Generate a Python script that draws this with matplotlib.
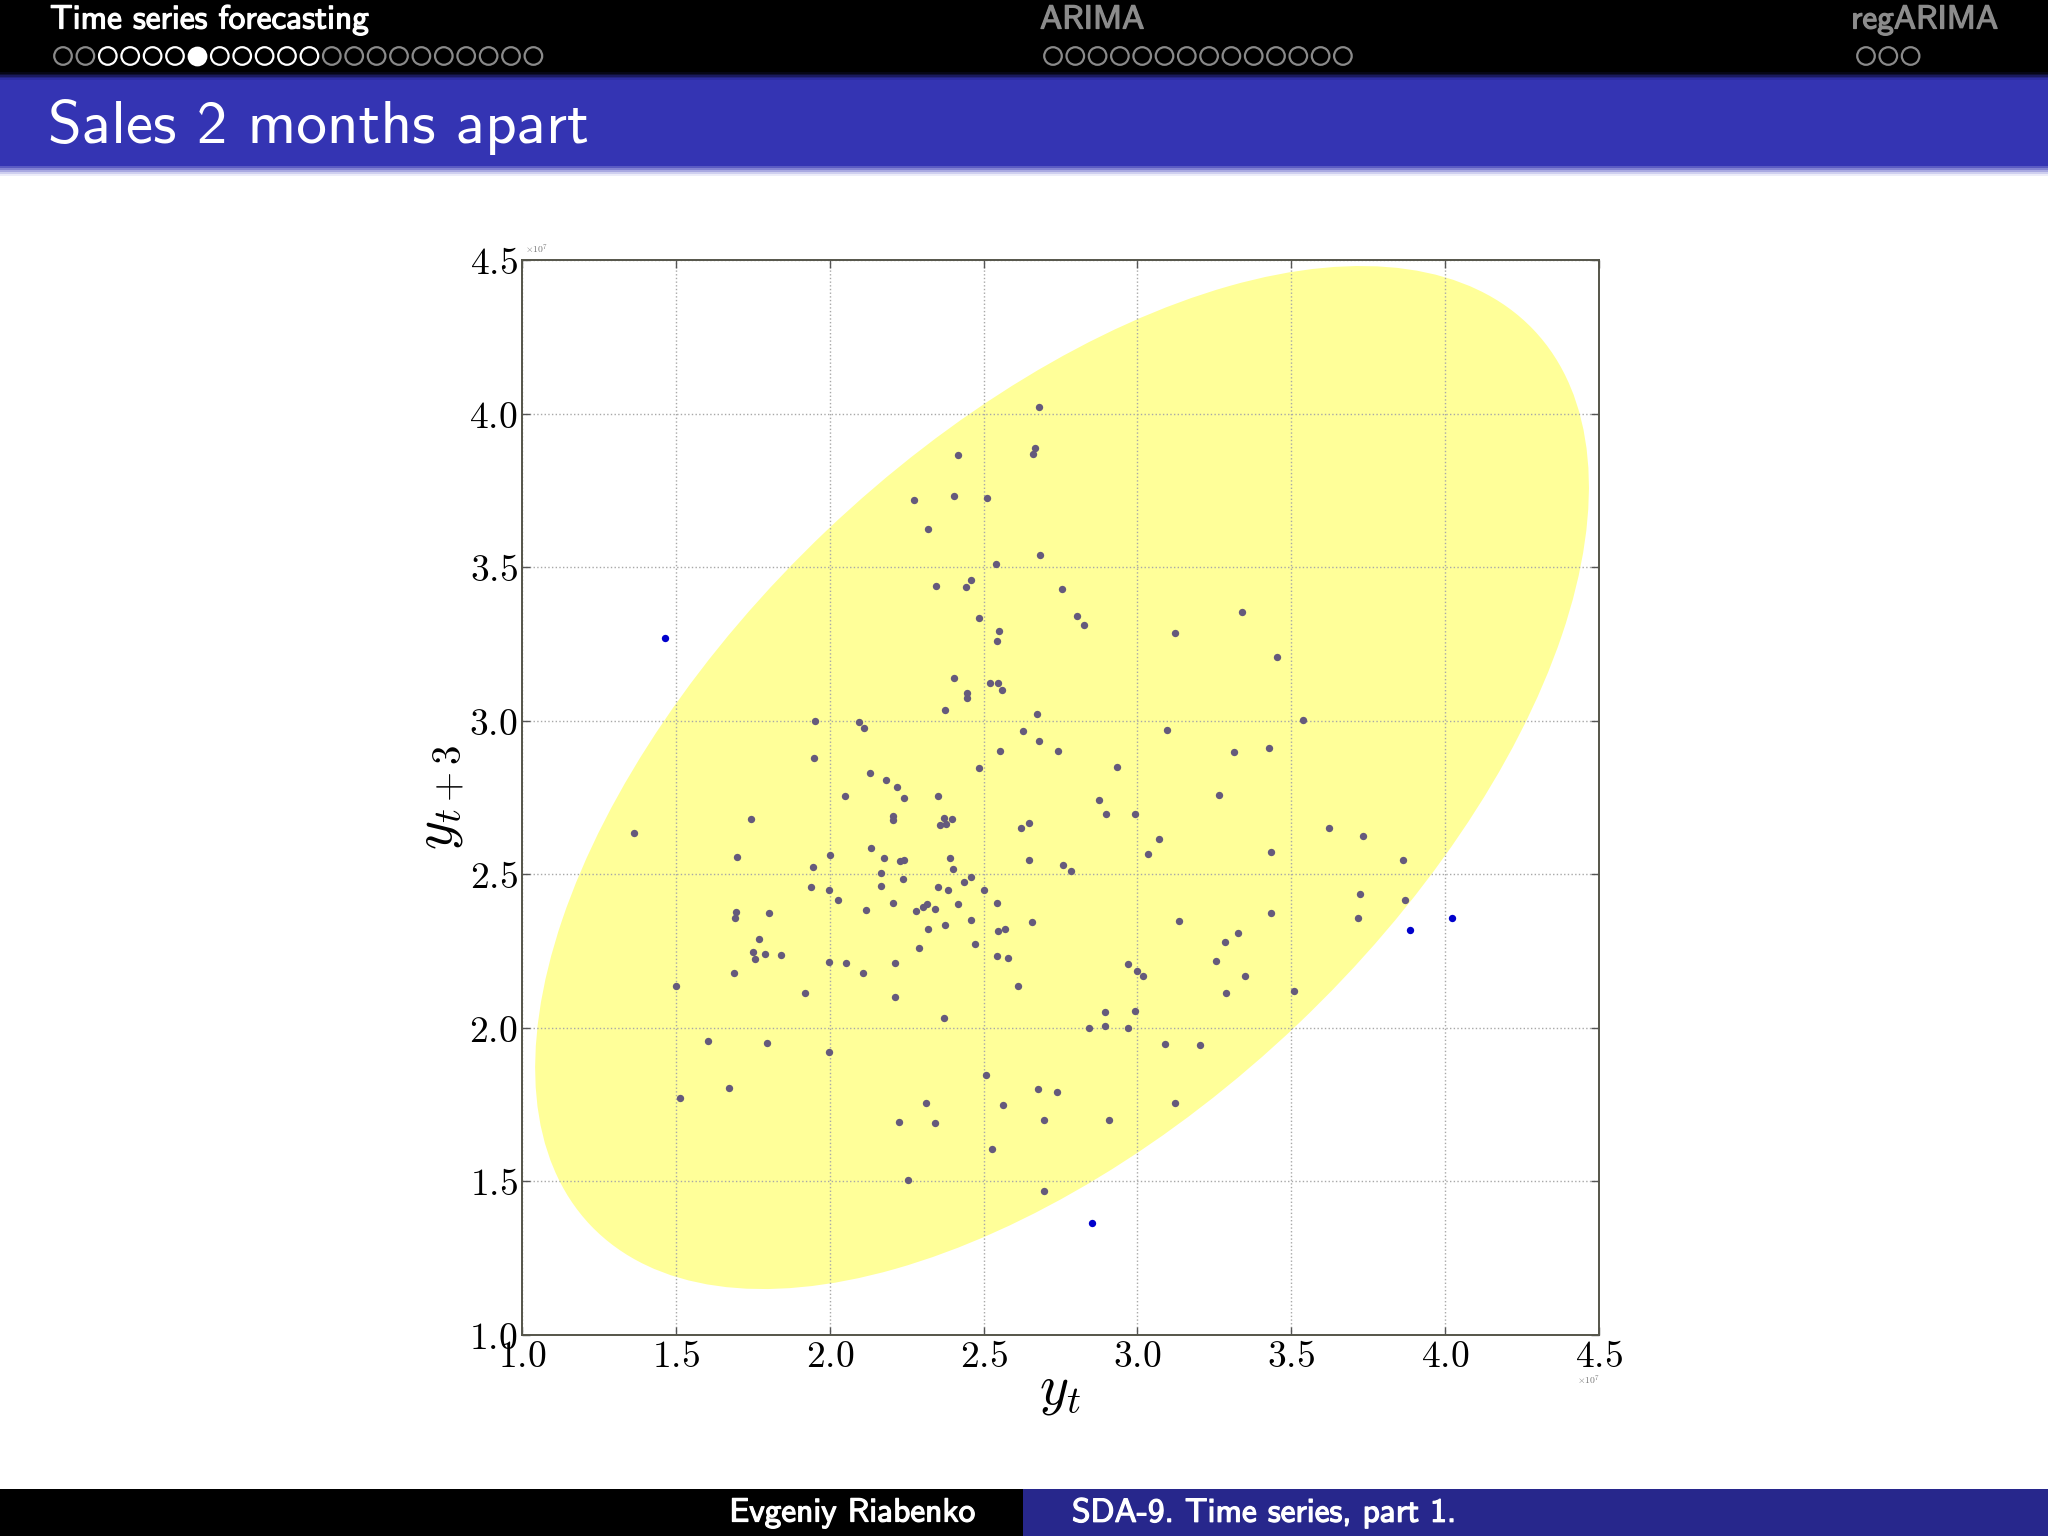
import matplotlib
matplotlib.use('Agg')
import matplotlib.pyplot as plt
from matplotlib.patches import Ellipse, Rectangle
from matplotlib.ticker import FormatStrFormatter
import matplotlib.patheffects as pe

plt.rcParams['mathtext.fontset'] = 'cm'

# sales at month t and t+3 (units of 1e7)
sales_t = [2.679, 2.666, 2.660, 2.417, 2.273, 2.403, 2.512, 2.320, 2.685, 2.541,
           2.347, 2.443, 2.460, 2.485, 2.550, 2.543, 2.405, 2.522, 2.547, 2.560,
           2.446, 2.446, 2.374, 2.675,
           2.754, 2.804, 2.826, 3.341, 3.121, 3.453,
           1.952, 2.094, 2.112, 2.629, 2.679, 2.553, 1.949, 2.485, 2.130, 2.184,
           2.218, 2.240, 2.049, 2.353, 2.205, 2.205, 2.373, 2.397, 2.357, 2.378,
           1.744, 1.363, 2.623, 2.648, 2.133, 2.002, 1.698, 2.176, 2.230, 2.243,
           1.946, 2.391, 2.401, 2.648, 2.168, 2.168, 2.238, 1.940, 1.997, 2.353,
           2.386, 2.435, 2.458, 2.501, 2.026, 2.205, 2.417, 2.543, 2.302, 2.316,
           2.279, 2.343, 2.118, 1.696, 1.693, 1.802, 2.458, 2.658, 2.374, 2.320,
           2.548, 2.571, 1.770, 1.752, 1.756, 1.790, 1.843, 2.473, 2.289, 2.545,
           2.578, 1.999, 2.053, 2.213, 1.690, 2.108, 1.501, 2.613, 1.921, 2.213,
           2.372, 1.605, 1.797, 1.999, 2.509, 1.674, 1.514, 2.676, 2.314, 2.563,
           2.695, 2.225, 2.343, 2.526, 2.256, 2.696,
           3.538, 2.741, 3.096, 3.313, 3.429, 2.933, 3.266, 2.876, 2.897, 2.992,
           3.623, 3.734, 3.071, 3.034, 3.434, 3.862, 2.757, 2.783, 3.724, 3.869,
           3.434, 3.718, 3.136, 3.328, 3.285, 3.256, 3.351, 3.287, 3.510, 2.968,
           3.000, 3.018, 2.895, 2.992, 2.842, 2.895, 2.970, 3.089, 3.204, 2.740,
           2.908, 3.121]
sales_t3 = [4.023, 3.887, 3.868, 3.866, 3.720, 3.733, 3.725, 3.624, 3.540, 3.511,
            3.439, 3.436, 3.457, 3.333, 3.291, 3.258, 3.139, 3.122, 3.122, 3.101,
            3.091, 3.073, 3.035, 3.023,
            3.429, 3.341, 3.313, 3.354, 3.285, 3.207,
            2.998, 2.995, 2.975, 2.966, 2.935, 2.901, 2.879, 2.847, 2.829, 2.807,
            2.784, 2.748, 2.756, 2.756, 2.691, 2.677, 2.683, 2.681, 2.660, 2.665,
            2.681, 2.634, 2.650, 2.668, 2.584, 2.562, 2.556, 2.553, 2.544, 2.546,
            2.525, 2.553, 2.518, 2.546, 2.503, 2.462, 2.486, 2.458, 2.449, 2.458,
            2.449, 2.475, 2.490, 2.449, 2.417, 2.408, 2.402, 2.405, 2.395, 2.402,
            2.380, 2.386, 2.384, 2.378, 2.359, 2.374, 2.352, 2.346, 2.336, 2.321,
            2.314, 2.321, 2.289, 2.246, 2.223, 2.242, 2.238, 2.274, 2.261, 2.233,
            2.226, 2.215, 2.211, 2.211, 2.177, 2.177, 2.135, 2.135, 2.114, 2.099,
            2.033, 1.957, 1.951, 1.922, 1.847, 1.803, 1.772, 1.801, 1.756, 1.748,
            1.700, 1.693, 1.690, 1.607, 1.506, 1.468,
            3.001, 2.901, 2.970, 2.898, 2.910, 2.850, 2.759, 2.741, 2.697, 2.697,
            2.650, 2.625, 2.615, 2.566, 2.571, 2.546, 2.531, 2.511, 2.437, 2.417,
            2.374, 2.358, 2.349, 2.309, 2.281, 2.218, 2.170, 2.114, 2.120, 2.208,
            2.186, 2.170, 2.051, 2.054, 1.998, 2.006, 2.001, 1.948, 1.945, 1.791,
            1.700, 1.756]

# points outside the ellipse
outlier_t = [1.466, 3.885, 4.023, 2.852]
outlier_t3 = [3.270, 2.317, 2.358, 1.366]

# ellipse (in units of 1e7)
ell_center = (2.755, 2.815)
ell_width = 4.23
ell_height = 2.22
ell_angle = 43.6

ticks = [1.0, 1.5, 2.0, 2.5, 3.0, 3.5, 4.0, 4.5]

fig = plt.figure(figsize=(20.48, 15.36), dpi=100)

# slide background (pixel coordinates)
bg = fig.add_axes([0, 0, 1, 1])
bg.set_xlim(0, 2048)
bg.set_ylim(1536, 0)
bg.axis('off')

bg.add_patch(Rectangle((0, 0), 2048, 72, color='black', lw=0))
blend = ['#060616', '#0f0f35', '#1a1a5c', '#252585', '#2e2ea3']
for i, c in enumerate(blend):
    bg.add_patch(Rectangle((0, 72 + i * 1.6), 2048, 1.7, color=c, lw=0))
bg.add_patch(Rectangle((0, 80), 2048, 86, color='#3434b3', lw=0))
fade = ['#5a5ac2', '#8282d2', '#a9a9e1', '#cfcfef', '#ececf9']
for i, c in enumerate(fade):
    bg.add_patch(Rectangle((0, 166 + i * 2), 2048, 2.1, color=c, lw=0))

bold = [pe.withStroke(linewidth=0.9, foreground='white')]
bold_gray = [pe.withStroke(linewidth=0.9, foreground='#8c8c8c')]
bg.text(50, 20, 'Time series forecasting', family='cmss10', fontsize=24,
        color='white', va='center', path_effects=bold)
bg.text(1040, 20, 'ARIMA', family='cmss10', fontsize=24,
        color='#8c8c8c', va='center', path_effects=bold_gray)
bg.text(1851, 20, 'regARIMA', family='cmss10', fontsize=24,
        color='#8c8c8c', va='center', path_effects=bold_gray)

# navigation circles
sec1 = 22
cur = 6
for i in range(sec1):
    cx = 63 + i * 22.4
    col = 'white' if 2 <= i <= 11 else '#8a8a8a'
    fc = 'white' if i == cur else 'none'
    bg.scatter(cx, 56, s=160, facecolors=fc, edgecolors=col, linewidths=1.6)
for i in range(14):
    bg.scatter(1053 + i * 22.3, 56, s=160, facecolors='none',
               edgecolors='#8a8a8a', linewidths=1.6)
for i in range(3):
    bg.scatter(1866 + i * 22.3, 56, s=160, facecolors='none',
               edgecolors='#8a8a8a', linewidths=1.6)

bg.text(48, 127, 'Sales 2 months apart', family='cmss10', fontsize=44,
        color='white', va='center')

# footer
bg.add_patch(Rectangle((0, 1489), 1023, 47, color='black', lw=0))
bg.add_patch(Rectangle((1023, 1489), 1025, 47, color='#27278c', lw=0))
bg.text(975, 1513, 'Evgeniy Riabenko', family='cmss10', fontsize=24,
        color='white', va='center', ha='right', path_effects=bold)
bg.text(1072, 1513, 'SDA-9. Time series, part 1.', family='cmss10', fontsize=24,
        color='white', va='center', path_effects=bold)

# scatter plot
ax = fig.add_axes([522 / 2048, 201 / 1536, 1077 / 2048, 1075 / 1536])
ax.add_patch(Ellipse(ell_center, ell_width, ell_height, angle=ell_angle,
                     facecolor='#ffff99', edgecolor='none', zorder=1))
ax.scatter(sales_t, sales_t3, s=28, color='#655a7c', linewidths=0, zorder=3)
ax.scatter(outlier_t, outlier_t3, s=28, color='#0000cc', linewidths=0, zorder=3)

ax.set_xlim(1.0, 4.5)
ax.set_ylim(1.0, 4.5)
ax.set_xticks(ticks)
ax.set_yticks(ticks)
ax.xaxis.set_major_formatter(FormatStrFormatter(r'$%.1f$'))
ax.yaxis.set_major_formatter(FormatStrFormatter(r'$%.1f$'))
ax.tick_params(direction='in', length=6, width=1, top=True, right=True,
               labelsize=27, color='#555555')
ax.tick_params(axis='x', pad=3)
ax.tick_params(axis='y', pad=3)
ax.grid(True, linestyle=':', color='#a8a8a8', linewidth=1)
ax.set_axisbelow('line')
for s in ax.spines.values():
    s.set_color('#55554a')
    s.set_linewidth(1.4)

ax.set_xlabel(r'$y_t$', fontsize=40)
ax.set_ylabel(r'$y_{t+3}$', fontsize=40)
ax.xaxis.set_label_coords(0.5, -0.026)
ax.yaxis.set_label_coords(-0.052, 0.5)

ax.text(0.003, 1.004, r'$\times10^{7}$', transform=ax.transAxes,
        fontsize=7, color='#777777', va='bottom')
ax.text(0.98, -0.036, r'$\times10^{7}$', transform=ax.transAxes,
        fontsize=7, color='#777777', va='top')

fig.savefig('out.png', dpi=100)
